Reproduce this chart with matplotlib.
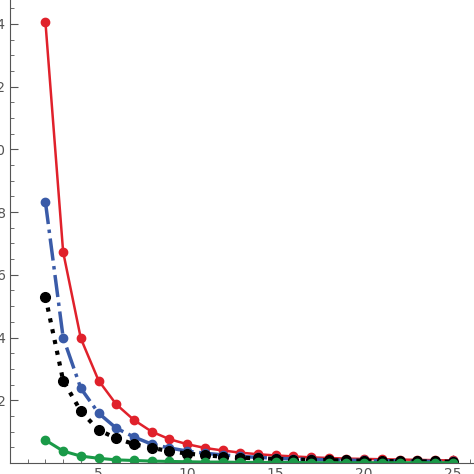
import matplotlib
matplotlib.use("Agg")
import matplotlib.pyplot as plt
from matplotlib.ticker import MultipleLocator

x = list(range(2, 26))
red = [1.406, 0.673, 0.397, 0.263, 0.187, 0.137, 0.100, 0.076, 0.060, 0.048, 0.040, 0.033, 0.028,
       0.024, 0.021, 0.018, 0.016, 0.014, 0.013, 0.012, 0.011, 0.010, 0.009, 0.008]
blue = [0.832, 0.400, 0.238, 0.159, 0.111, 0.083, 0.060, 0.048, 0.038, 0.031, 0.026, 0.021, 0.018,
        0.015, 0.013, 0.012, 0.010, 0.009, 0.008, 0.007, 0.007, 0.006, 0.005, 0.005]
black = [0.530, 0.263, 0.165, 0.105, 0.079, 0.060, 0.048, 0.038, 0.030, 0.025, 0.020, 0.017, 0.015,
         0.013, 0.011, 0.010, 0.009, 0.008, 0.007, 0.006, 0.006, 0.005, 0.005, 0.004]
green = [0.073, 0.038, 0.022, 0.015, 0.010, 0.008, 0.006, 0.005, 0.004, 0.003, 0.003, 0.002, 0.002,
         0.002, 0.002, 0.001, 0.001, 0.001, 0.001, 0.001, 0.001, 0.001, 0.001, 0.001]

fig = plt.figure(figsize=(4.74, 4.74), dpi=100)
ax = fig.add_axes([10/474, 11/474, 1 - 10/474, 1 - 11/474])
ax.plot(x, red, '-', color='#e0212b', marker='o', ms=6, lw=1.8)
ax.plot(x, blue, '-.', color='#3a5ba8', marker='o', ms=6, lw=2.5)
ax.plot(x, black, ':', color='black', marker='o', ms=7, lw=3)
ax.plot(x, green, '-', color='#1a9a48', marker='o', ms=6, lw=2.2)
ax.set_xlim(0, 26.2)
ax.set_ylim(0, 1.476)
ax.xaxis.set_major_locator(MultipleLocator(5))
ax.xaxis.set_minor_locator(MultipleLocator(1))
ax.yaxis.set_major_locator(MultipleLocator(0.2))
ax.yaxis.set_minor_locator(MultipleLocator(0.05))
ax.set_yticks([0.2, 0.4, 0.6, 0.8, 1.0, 1.2, 1.4])
ax.set_yticklabels(['0.2', '0.4', '0.6', '0.8', '1.0', '1.2', '1.4'])
ax.set_xticks([5, 10, 15, 20, 25])
ax.tick_params(which='both', direction='in', colors='#555555', labelsize=10, pad=3)
ax.tick_params(which='major', length=6)
ax.tick_params(which='minor', length=3)
for s in ['top', 'right']:
    ax.spines[s].set_visible(False)
for s in ['left', 'bottom']:
    ax.spines[s].set_color('#555555')
fig.savefig("out.png", dpi=100)
